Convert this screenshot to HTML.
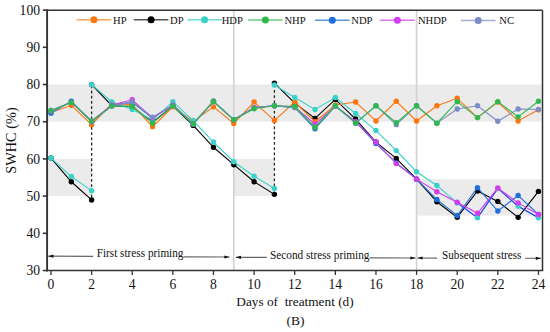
<!DOCTYPE html>
<html><head><meta charset="utf-8"><style>
html,body{margin:0;padding:0;background:#fff;width:550px;height:332px;overflow:hidden}
svg{display:block}
</style></head><body>
<svg width="550" height="332" viewBox="0 0 550 332">
<rect x="0" y="0" width="550" height="332" fill="#ffffff"/>
<rect x="48" y="84.5" width="493.5" height="37.2" fill="#ebebeb"/>
<rect x="48" y="158.9" width="43.62" height="37.2" fill="#ebebeb"/>
<rect x="233.79" y="158.9" width="40.62" height="37.2" fill="#ebebeb"/>
<rect x="416.58" y="179.1" width="124.92" height="36.5" fill="#ebebeb"/>
<line x1="233.79" y1="10" x2="233.79" y2="270" stroke="#d2d2d2" stroke-width="1.6"/>
<line x1="416.58" y1="10" x2="416.58" y2="270" stroke="#d2d2d2" stroke-width="1.6"/>
<line x1="91.62" y1="84.58" x2="91.62" y2="199.93" stroke="#2a2a2a" stroke-width="1.3" stroke-dasharray="2.8,2.4" stroke-dashoffset="4.4"/>
<line x1="274.41" y1="84.58" x2="274.41" y2="194.37" stroke="#2a2a2a" stroke-width="1.3" stroke-dasharray="2.8,2.4" stroke-dashoffset="5.0"/>
<polyline fill="none" stroke="#000000" stroke-width="1.1" points="51,158.02 71.31,181.76 91.62,199.93"/>
<polyline fill="none" stroke="#000000" stroke-width="1.1" points="91.62,84.58 111.93,105.72 132.24,106.46 152.55,122.41 172.86,106.09 193.17,125.38 213.48,147.26 233.79,164.69 254.1,181.76 274.41,194.37"/>
<polyline fill="none" stroke="#000000" stroke-width="1.1" points="274.41,83.1 294.72,103.13 315.03,118.33 335.34,99.42 355.65,119.07 375.96,142.07 396.27,158.39 416.58,179.16 436.89,201.78 457.2,217.36 477.51,191.03 497.82,201.41 518.13,217.36 538.44,191.4"/>
<circle cx="51" cy="158.02" r="2.7" fill="#000000"/>
<circle cx="71.31" cy="181.76" r="2.7" fill="#000000"/>
<circle cx="91.62" cy="199.93" r="2.7" fill="#000000"/>
<circle cx="91.62" cy="84.58" r="2.7" fill="#000000"/>
<circle cx="111.93" cy="105.72" r="2.7" fill="#000000"/>
<circle cx="132.24" cy="106.46" r="2.7" fill="#000000"/>
<circle cx="152.55" cy="122.41" r="2.7" fill="#000000"/>
<circle cx="172.86" cy="106.09" r="2.7" fill="#000000"/>
<circle cx="193.17" cy="125.38" r="2.7" fill="#000000"/>
<circle cx="213.48" cy="147.26" r="2.7" fill="#000000"/>
<circle cx="233.79" cy="164.69" r="2.7" fill="#000000"/>
<circle cx="254.1" cy="181.76" r="2.7" fill="#000000"/>
<circle cx="274.41" cy="194.37" r="2.7" fill="#000000"/>
<circle cx="274.41" cy="83.1" r="2.7" fill="#000000"/>
<circle cx="294.72" cy="103.13" r="2.7" fill="#000000"/>
<circle cx="315.03" cy="118.33" r="2.7" fill="#000000"/>
<circle cx="335.34" cy="99.42" r="2.7" fill="#000000"/>
<circle cx="355.65" cy="119.07" r="2.7" fill="#000000"/>
<circle cx="375.96" cy="142.07" r="2.7" fill="#000000"/>
<circle cx="396.27" cy="158.39" r="2.7" fill="#000000"/>
<circle cx="416.58" cy="179.16" r="2.7" fill="#000000"/>
<circle cx="436.89" cy="201.78" r="2.7" fill="#000000"/>
<circle cx="457.2" cy="217.36" r="2.7" fill="#000000"/>
<circle cx="477.51" cy="191.03" r="2.7" fill="#000000"/>
<circle cx="497.82" cy="201.41" r="2.7" fill="#000000"/>
<circle cx="518.13" cy="217.36" r="2.7" fill="#000000"/>
<circle cx="538.44" cy="191.4" r="2.7" fill="#000000"/>
<polyline fill="none" stroke="#ff7510" stroke-width="1.1" points="51,112.4 71.31,105.35 91.62,124.64 111.93,103.5 132.24,104.61 152.55,126.86 172.86,106.83 193.17,121.67 213.48,106.83 233.79,123.52 254.1,102.01 274.41,120.56 294.72,102.01 315.03,121.67 335.34,104.98 355.65,102.01 375.96,120.93 396.27,101.27 416.58,120.93 436.89,105.72 457.2,98.3 477.51,117.59 497.82,102.01 518.13,120.93 538.44,109.8"/>
<circle cx="51" cy="112.4" r="2.7" fill="#ff7510"/>
<circle cx="71.31" cy="105.35" r="2.7" fill="#ff7510"/>
<circle cx="91.62" cy="124.64" r="2.7" fill="#ff7510"/>
<circle cx="111.93" cy="103.5" r="2.7" fill="#ff7510"/>
<circle cx="132.24" cy="104.61" r="2.7" fill="#ff7510"/>
<circle cx="152.55" cy="126.86" r="2.7" fill="#ff7510"/>
<circle cx="172.86" cy="106.83" r="2.7" fill="#ff7510"/>
<circle cx="193.17" cy="121.67" r="2.7" fill="#ff7510"/>
<circle cx="213.48" cy="106.83" r="2.7" fill="#ff7510"/>
<circle cx="233.79" cy="123.52" r="2.7" fill="#ff7510"/>
<circle cx="254.1" cy="102.01" r="2.7" fill="#ff7510"/>
<circle cx="274.41" cy="120.56" r="2.7" fill="#ff7510"/>
<circle cx="294.72" cy="102.01" r="2.7" fill="#ff7510"/>
<circle cx="315.03" cy="121.67" r="2.7" fill="#ff7510"/>
<circle cx="335.34" cy="104.98" r="2.7" fill="#ff7510"/>
<circle cx="355.65" cy="102.01" r="2.7" fill="#ff7510"/>
<circle cx="375.96" cy="120.93" r="2.7" fill="#ff7510"/>
<circle cx="396.27" cy="101.27" r="2.7" fill="#ff7510"/>
<circle cx="416.58" cy="120.93" r="2.7" fill="#ff7510"/>
<circle cx="436.89" cy="105.72" r="2.7" fill="#ff7510"/>
<circle cx="457.2" cy="98.3" r="2.7" fill="#ff7510"/>
<circle cx="477.51" cy="117.59" r="2.7" fill="#ff7510"/>
<circle cx="497.82" cy="102.01" r="2.7" fill="#ff7510"/>
<circle cx="518.13" cy="120.93" r="2.7" fill="#ff7510"/>
<circle cx="538.44" cy="109.8" r="2.7" fill="#ff7510"/>
<polyline fill="none" stroke="#1f6fdb" stroke-width="1.1" points="51,113.14 71.31,101.27 91.62,121.67 111.93,104.98 132.24,102.38 152.55,117.96 172.86,104.98 193.17,123.9 213.48,101.27 233.79,119.82 254.1,107.58 274.41,105.72 294.72,107.58 315.03,128.72 335.34,106.09 355.65,121.67 375.96,143.55 396.27,162.84 416.58,179.16 436.89,199.56 457.2,215.51 477.51,187.69 497.82,211.06 518.13,195.48 538.44,214.4"/>
<circle cx="51" cy="113.14" r="2.7" fill="#1f6fdb"/>
<circle cx="71.31" cy="101.27" r="2.7" fill="#1f6fdb"/>
<circle cx="91.62" cy="121.67" r="2.7" fill="#1f6fdb"/>
<circle cx="111.93" cy="104.98" r="2.7" fill="#1f6fdb"/>
<circle cx="132.24" cy="102.38" r="2.7" fill="#1f6fdb"/>
<circle cx="152.55" cy="117.96" r="2.7" fill="#1f6fdb"/>
<circle cx="172.86" cy="104.98" r="2.7" fill="#1f6fdb"/>
<circle cx="193.17" cy="123.9" r="2.7" fill="#1f6fdb"/>
<circle cx="213.48" cy="101.27" r="2.7" fill="#1f6fdb"/>
<circle cx="233.79" cy="119.82" r="2.7" fill="#1f6fdb"/>
<circle cx="254.1" cy="107.58" r="2.7" fill="#1f6fdb"/>
<circle cx="274.41" cy="105.72" r="2.7" fill="#1f6fdb"/>
<circle cx="294.72" cy="107.58" r="2.7" fill="#1f6fdb"/>
<circle cx="315.03" cy="128.72" r="2.7" fill="#1f6fdb"/>
<circle cx="335.34" cy="106.09" r="2.7" fill="#1f6fdb"/>
<circle cx="355.65" cy="121.67" r="2.7" fill="#1f6fdb"/>
<circle cx="375.96" cy="143.55" r="2.7" fill="#1f6fdb"/>
<circle cx="396.27" cy="162.84" r="2.7" fill="#1f6fdb"/>
<circle cx="416.58" cy="179.16" r="2.7" fill="#1f6fdb"/>
<circle cx="436.89" cy="199.56" r="2.7" fill="#1f6fdb"/>
<circle cx="457.2" cy="215.51" r="2.7" fill="#1f6fdb"/>
<circle cx="477.51" cy="187.69" r="2.7" fill="#1f6fdb"/>
<circle cx="497.82" cy="211.06" r="2.7" fill="#1f6fdb"/>
<circle cx="518.13" cy="195.48" r="2.7" fill="#1f6fdb"/>
<circle cx="538.44" cy="214.4" r="2.7" fill="#1f6fdb"/>
<polyline fill="none" stroke="#38d2ca" stroke-width="1.1" points="51,158.02 71.31,176.56 91.62,190.66"/>
<polyline fill="none" stroke="#38d2ca" stroke-width="1.1" points="91.62,84.58 111.93,102.01 132.24,109.43 152.55,119.82 172.86,101.64 193.17,120.56 213.48,142.07 233.79,161.73 254.1,176.19 274.41,188.43"/>
<polyline fill="none" stroke="#38d2ca" stroke-width="1.1" points="274.41,84.95 294.72,97.56 315.03,109.43 335.34,97.56 355.65,113.51 375.96,130.57 396.27,150.6 416.58,171.74 436.89,185.46 457.2,202.9 477.51,217.73 497.82,188.43 518.13,206.24 538.44,217.73"/>
<polyline fill="none" stroke="#3535ee" stroke-width="1.1" points="457.2,202.9 477.51,217.73 497.82,188.43 518.13,206.24 538.44,217.73"/>
<circle cx="51" cy="158.02" r="2.7" fill="#38d2ca"/>
<circle cx="71.31" cy="176.56" r="2.7" fill="#38d2ca"/>
<circle cx="91.62" cy="190.66" r="2.7" fill="#38d2ca"/>
<circle cx="91.62" cy="84.58" r="2.7" fill="#38d2ca"/>
<circle cx="111.93" cy="102.01" r="2.7" fill="#38d2ca"/>
<circle cx="132.24" cy="109.43" r="2.7" fill="#38d2ca"/>
<circle cx="152.55" cy="119.82" r="2.7" fill="#38d2ca"/>
<circle cx="172.86" cy="101.64" r="2.7" fill="#38d2ca"/>
<circle cx="193.17" cy="120.56" r="2.7" fill="#38d2ca"/>
<circle cx="213.48" cy="142.07" r="2.7" fill="#38d2ca"/>
<circle cx="233.79" cy="161.73" r="2.7" fill="#38d2ca"/>
<circle cx="254.1" cy="176.19" r="2.7" fill="#38d2ca"/>
<circle cx="274.41" cy="188.43" r="2.7" fill="#38d2ca"/>
<circle cx="274.41" cy="84.95" r="2.7" fill="#38d2ca"/>
<circle cx="294.72" cy="97.56" r="2.7" fill="#38d2ca"/>
<circle cx="315.03" cy="109.43" r="2.7" fill="#38d2ca"/>
<circle cx="335.34" cy="97.56" r="2.7" fill="#38d2ca"/>
<circle cx="355.65" cy="113.51" r="2.7" fill="#38d2ca"/>
<circle cx="375.96" cy="130.57" r="2.7" fill="#38d2ca"/>
<circle cx="396.27" cy="150.6" r="2.7" fill="#38d2ca"/>
<circle cx="416.58" cy="171.74" r="2.7" fill="#38d2ca"/>
<circle cx="436.89" cy="185.46" r="2.7" fill="#38d2ca"/>
<circle cx="457.2" cy="202.9" r="2.7" fill="#38d2ca"/>
<circle cx="477.51" cy="217.73" r="2.7" fill="#38d2ca"/>
<circle cx="497.82" cy="188.43" r="2.7" fill="#38d2ca"/>
<circle cx="518.13" cy="206.24" r="2.7" fill="#38d2ca"/>
<circle cx="538.44" cy="217.73" r="2.7" fill="#38d2ca"/>
<polyline fill="none" stroke="#d43cf0" stroke-width="1.1" points="51,110.54 71.31,102.38 91.62,120.93 111.93,104.98 132.24,99.79 152.55,117.96 172.86,104.98 193.17,123.9 213.48,101.27 233.79,119.82 254.1,107.58 274.41,105.72 294.72,106.83 315.03,124.27 335.34,106.09 355.65,121.67 375.96,142.07 396.27,163.58 416.58,179.16 436.89,191.77 457.2,202.16 477.51,213.28 497.82,188.06 518.13,202.9 538.44,214.4"/>
<circle cx="51" cy="110.54" r="2.7" fill="#d43cf0"/>
<circle cx="71.31" cy="102.38" r="2.7" fill="#d43cf0"/>
<circle cx="91.62" cy="120.93" r="2.7" fill="#d43cf0"/>
<circle cx="111.93" cy="104.98" r="2.7" fill="#d43cf0"/>
<circle cx="132.24" cy="99.79" r="2.7" fill="#d43cf0"/>
<circle cx="152.55" cy="117.96" r="2.7" fill="#d43cf0"/>
<circle cx="172.86" cy="104.98" r="2.7" fill="#d43cf0"/>
<circle cx="193.17" cy="123.9" r="2.7" fill="#d43cf0"/>
<circle cx="213.48" cy="101.27" r="2.7" fill="#d43cf0"/>
<circle cx="233.79" cy="119.82" r="2.7" fill="#d43cf0"/>
<circle cx="254.1" cy="107.58" r="2.7" fill="#d43cf0"/>
<circle cx="274.41" cy="105.72" r="2.7" fill="#d43cf0"/>
<circle cx="294.72" cy="106.83" r="2.7" fill="#d43cf0"/>
<circle cx="315.03" cy="124.27" r="2.7" fill="#d43cf0"/>
<circle cx="335.34" cy="106.09" r="2.7" fill="#d43cf0"/>
<circle cx="355.65" cy="121.67" r="2.7" fill="#d43cf0"/>
<circle cx="375.96" cy="142.07" r="2.7" fill="#d43cf0"/>
<circle cx="396.27" cy="163.58" r="2.7" fill="#d43cf0"/>
<circle cx="416.58" cy="179.16" r="2.7" fill="#d43cf0"/>
<circle cx="436.89" cy="191.77" r="2.7" fill="#d43cf0"/>
<circle cx="457.2" cy="202.16" r="2.7" fill="#d43cf0"/>
<circle cx="477.51" cy="213.28" r="2.7" fill="#d43cf0"/>
<circle cx="497.82" cy="188.06" r="2.7" fill="#d43cf0"/>
<circle cx="518.13" cy="202.9" r="2.7" fill="#d43cf0"/>
<circle cx="538.44" cy="214.4" r="2.7" fill="#d43cf0"/>
<polyline fill="none" stroke="#7c8cc6" stroke-width="1.1" points="51,110.91 71.31,102.38 91.62,121.67 111.93,106.09 132.24,101.64 152.55,117.22 172.86,104.98 193.17,123.9 213.48,101.64 233.79,119.82 254.1,107.58 274.41,105.72 294.72,107.58 315.03,127.23 335.34,106.09 355.65,123.15 375.96,105.72 396.27,124.64 416.58,105.72 436.89,123.15 457.2,109.06 477.51,105.72 497.82,121.3 518.13,109.06 538.44,109.43"/>
<circle cx="51" cy="110.91" r="2.7" fill="#7c8cc6"/>
<circle cx="71.31" cy="102.38" r="2.7" fill="#7c8cc6"/>
<circle cx="91.62" cy="121.67" r="2.7" fill="#7c8cc6"/>
<circle cx="111.93" cy="106.09" r="2.7" fill="#7c8cc6"/>
<circle cx="132.24" cy="101.64" r="2.7" fill="#7c8cc6"/>
<circle cx="152.55" cy="117.22" r="2.7" fill="#7c8cc6"/>
<circle cx="172.86" cy="104.98" r="2.7" fill="#7c8cc6"/>
<circle cx="193.17" cy="123.9" r="2.7" fill="#7c8cc6"/>
<circle cx="213.48" cy="101.64" r="2.7" fill="#7c8cc6"/>
<circle cx="233.79" cy="119.82" r="2.7" fill="#7c8cc6"/>
<circle cx="254.1" cy="107.58" r="2.7" fill="#7c8cc6"/>
<circle cx="274.41" cy="105.72" r="2.7" fill="#7c8cc6"/>
<circle cx="294.72" cy="107.58" r="2.7" fill="#7c8cc6"/>
<circle cx="315.03" cy="127.23" r="2.7" fill="#7c8cc6"/>
<circle cx="335.34" cy="106.09" r="2.7" fill="#7c8cc6"/>
<circle cx="355.65" cy="123.15" r="2.7" fill="#7c8cc6"/>
<circle cx="375.96" cy="105.72" r="2.7" fill="#7c8cc6"/>
<circle cx="396.27" cy="124.64" r="2.7" fill="#7c8cc6"/>
<circle cx="416.58" cy="105.72" r="2.7" fill="#7c8cc6"/>
<circle cx="436.89" cy="123.15" r="2.7" fill="#7c8cc6"/>
<circle cx="457.2" cy="109.06" r="2.7" fill="#7c8cc6"/>
<circle cx="477.51" cy="105.72" r="2.7" fill="#7c8cc6"/>
<circle cx="497.82" cy="121.3" r="2.7" fill="#7c8cc6"/>
<circle cx="518.13" cy="109.06" r="2.7" fill="#7c8cc6"/>
<circle cx="538.44" cy="109.43" r="2.7" fill="#7c8cc6"/>
<polyline fill="none" stroke="#2fb84e" stroke-width="1.1" points="51,110.54 71.31,102.38 91.62,120.93 111.93,105.72 132.24,106.46 152.55,123.15 172.86,106.09 193.17,123.9 213.48,101.27 233.79,119.82 254.1,108.69 274.41,105.72 294.72,106.46 315.03,127.23 335.34,105.72 355.65,123.15 375.96,105.72 396.27,122.78 416.58,105.72 436.89,123.15 457.2,101.64 477.51,117.59 497.82,101.64 518.13,116.85 538.44,101.27"/>
<circle cx="51" cy="110.54" r="2.7" fill="#2fb84e"/>
<circle cx="71.31" cy="102.38" r="2.7" fill="#2fb84e"/>
<circle cx="91.62" cy="120.93" r="2.7" fill="#2fb84e"/>
<circle cx="111.93" cy="105.72" r="2.7" fill="#2fb84e"/>
<circle cx="132.24" cy="106.46" r="2.7" fill="#2fb84e"/>
<circle cx="152.55" cy="123.15" r="2.7" fill="#2fb84e"/>
<circle cx="172.86" cy="106.09" r="2.7" fill="#2fb84e"/>
<circle cx="193.17" cy="123.9" r="2.7" fill="#2fb84e"/>
<circle cx="213.48" cy="101.27" r="2.7" fill="#2fb84e"/>
<circle cx="233.79" cy="119.82" r="2.7" fill="#2fb84e"/>
<circle cx="254.1" cy="108.69" r="2.7" fill="#2fb84e"/>
<circle cx="274.41" cy="105.72" r="2.7" fill="#2fb84e"/>
<circle cx="294.72" cy="106.46" r="2.7" fill="#2fb84e"/>
<circle cx="315.03" cy="127.23" r="2.7" fill="#2fb84e"/>
<circle cx="335.34" cy="105.72" r="2.7" fill="#2fb84e"/>
<circle cx="355.65" cy="123.15" r="2.7" fill="#2fb84e"/>
<circle cx="375.96" cy="105.72" r="2.7" fill="#2fb84e"/>
<circle cx="396.27" cy="122.78" r="2.7" fill="#2fb84e"/>
<circle cx="416.58" cy="105.72" r="2.7" fill="#2fb84e"/>
<circle cx="436.89" cy="123.15" r="2.7" fill="#2fb84e"/>
<circle cx="457.2" cy="101.64" r="2.7" fill="#2fb84e"/>
<circle cx="477.51" cy="117.59" r="2.7" fill="#2fb84e"/>
<circle cx="497.82" cy="101.64" r="2.7" fill="#2fb84e"/>
<circle cx="518.13" cy="116.85" r="2.7" fill="#2fb84e"/>
<circle cx="538.44" cy="101.27" r="2.7" fill="#2fb84e"/>
<line x1="47" y1="10.2" x2="542.5" y2="10.2" stroke="#333333" stroke-width="1.5"/>
<line x1="542.5" y1="10.2" x2="542.5" y2="270.7" stroke="#333333" stroke-width="1.5"/>
<line x1="47.1" y1="9.5" x2="47.1" y2="271.6" stroke="#333333" stroke-width="1.9"/>
<line x1="42.8" y1="270.5" x2="543.2" y2="270.5" stroke="#333333" stroke-width="1.6"/>
<text x="40" y="275.2" text-anchor="end" style="font-family:'Liberation Serif',serif;font-size:13.6px" fill="#111">30</text>
<line x1="42.8" y1="233.3" x2="47" y2="233.3" stroke="#333333" stroke-width="1.6"/>
<text x="40" y="238" text-anchor="end" style="font-family:'Liberation Serif',serif;font-size:13.6px" fill="#111">40</text>
<line x1="42.8" y1="196.1" x2="47" y2="196.1" stroke="#333333" stroke-width="1.6"/>
<text x="40" y="200.8" text-anchor="end" style="font-family:'Liberation Serif',serif;font-size:13.6px" fill="#111">50</text>
<line x1="42.8" y1="158.9" x2="47" y2="158.9" stroke="#333333" stroke-width="1.6"/>
<text x="40" y="163.6" text-anchor="end" style="font-family:'Liberation Serif',serif;font-size:13.6px" fill="#111">60</text>
<line x1="42.8" y1="121.7" x2="47" y2="121.7" stroke="#333333" stroke-width="1.6"/>
<text x="40" y="126.4" text-anchor="end" style="font-family:'Liberation Serif',serif;font-size:13.6px" fill="#111">70</text>
<line x1="42.8" y1="84.5" x2="47" y2="84.5" stroke="#333333" stroke-width="1.6"/>
<text x="40" y="89.2" text-anchor="end" style="font-family:'Liberation Serif',serif;font-size:13.6px" fill="#111">80</text>
<line x1="42.8" y1="47.3" x2="47" y2="47.3" stroke="#333333" stroke-width="1.6"/>
<text x="40" y="52" text-anchor="end" style="font-family:'Liberation Serif',serif;font-size:13.6px" fill="#111">90</text>
<line x1="42.8" y1="10.1" x2="47" y2="10.1" stroke="#333333" stroke-width="1.6"/>
<text x="40" y="14.8" text-anchor="end" style="font-family:'Liberation Serif',serif;font-size:13.6px" fill="#111">100</text>
<line x1="51" y1="270.6" x2="51" y2="274.9" stroke="#333333" stroke-width="1.3"/>
<text x="51" y="288.5" text-anchor="middle" style="font-family:'Liberation Serif',serif;font-size:13.6px" fill="#111">0</text>
<line x1="91.62" y1="270.6" x2="91.62" y2="274.9" stroke="#333333" stroke-width="1.3"/>
<text x="91.62" y="288.5" text-anchor="middle" style="font-family:'Liberation Serif',serif;font-size:13.6px" fill="#111">2</text>
<line x1="132.24" y1="270.6" x2="132.24" y2="274.9" stroke="#333333" stroke-width="1.3"/>
<text x="132.24" y="288.5" text-anchor="middle" style="font-family:'Liberation Serif',serif;font-size:13.6px" fill="#111">4</text>
<line x1="172.86" y1="270.6" x2="172.86" y2="274.9" stroke="#333333" stroke-width="1.3"/>
<text x="172.86" y="288.5" text-anchor="middle" style="font-family:'Liberation Serif',serif;font-size:13.6px" fill="#111">6</text>
<line x1="213.48" y1="270.6" x2="213.48" y2="274.9" stroke="#333333" stroke-width="1.3"/>
<text x="213.48" y="288.5" text-anchor="middle" style="font-family:'Liberation Serif',serif;font-size:13.6px" fill="#111">8</text>
<line x1="254.1" y1="270.6" x2="254.1" y2="274.9" stroke="#333333" stroke-width="1.3"/>
<text x="254.1" y="288.5" text-anchor="middle" style="font-family:'Liberation Serif',serif;font-size:13.6px" fill="#111">10</text>
<line x1="294.72" y1="270.6" x2="294.72" y2="274.9" stroke="#333333" stroke-width="1.3"/>
<text x="294.72" y="288.5" text-anchor="middle" style="font-family:'Liberation Serif',serif;font-size:13.6px" fill="#111">12</text>
<line x1="335.34" y1="270.6" x2="335.34" y2="274.9" stroke="#333333" stroke-width="1.3"/>
<text x="335.34" y="288.5" text-anchor="middle" style="font-family:'Liberation Serif',serif;font-size:13.6px" fill="#111">14</text>
<line x1="375.96" y1="270.6" x2="375.96" y2="274.9" stroke="#333333" stroke-width="1.3"/>
<text x="375.96" y="288.5" text-anchor="middle" style="font-family:'Liberation Serif',serif;font-size:13.6px" fill="#111">16</text>
<line x1="416.58" y1="270.6" x2="416.58" y2="274.9" stroke="#333333" stroke-width="1.3"/>
<text x="416.58" y="288.5" text-anchor="middle" style="font-family:'Liberation Serif',serif;font-size:13.6px" fill="#111">18</text>
<line x1="457.2" y1="270.6" x2="457.2" y2="274.9" stroke="#333333" stroke-width="1.3"/>
<text x="457.2" y="288.5" text-anchor="middle" style="font-family:'Liberation Serif',serif;font-size:13.6px" fill="#111">20</text>
<line x1="497.82" y1="270.6" x2="497.82" y2="274.9" stroke="#333333" stroke-width="1.3"/>
<text x="497.82" y="288.5" text-anchor="middle" style="font-family:'Liberation Serif',serif;font-size:13.6px" fill="#111">22</text>
<line x1="538.44" y1="270.6" x2="538.44" y2="274.9" stroke="#333333" stroke-width="1.3"/>
<text x="538.44" y="288.5" text-anchor="middle" style="font-family:'Liberation Serif',serif;font-size:13.6px" fill="#111">24</text>
<text transform="translate(15.6,140.5) rotate(-90)" text-anchor="middle" style="font-family:'Liberation Serif',serif;font-size:14.3px" fill="#111">SWHC (%)</text>
<text x="295" y="305.5" text-anchor="middle" style="font-family:'Liberation Serif',serif;font-size:13.3px;white-space:pre" fill="#111" xml:space="preserve">Days of  treatment (d)</text>
<text x="295.5" y="324.5" text-anchor="middle" style="font-family:'Liberation Serif',serif;font-size:13.5px" fill="#111">(B)</text>
<line x1="76.6" y1="19.7" x2="111.2" y2="19.7" stroke="#ffa55a" stroke-width="1.5"/>
<circle cx="93.9" cy="19.7" r="3.5" fill="#ff7510"/>
<text x="113" y="23.5" style="font-family:'Liberation Serif',serif;font-size:10.6px" fill="#111">HP</text>
<line x1="133.8" y1="19.75" x2="168.4" y2="19.75" stroke="#555555" stroke-width="1.5"/>
<circle cx="151.1" cy="19.75" r="3.5" fill="#000000"/>
<text x="170" y="23.5" style="font-family:'Liberation Serif',serif;font-size:10.6px" fill="#111">DP</text>
<line x1="187.3" y1="19.8" x2="221.9" y2="19.8" stroke="#6fdcd4" stroke-width="1.5"/>
<circle cx="204.6" cy="19.8" r="3.5" fill="#38d2ca"/>
<text x="221.7" y="23.5" style="font-family:'Liberation Serif',serif;font-size:10.6px" fill="#111">HDP</text>
<line x1="248.1" y1="20.0" x2="282.7" y2="20.0" stroke="#6ccc7f" stroke-width="1.5"/>
<circle cx="265.4" cy="20.0" r="3.5" fill="#2fb84e"/>
<text x="284.4" y="23.5" style="font-family:'Liberation Serif',serif;font-size:10.6px" fill="#111">NHP</text>
<line x1="315" y1="20.2" x2="349.6" y2="20.2" stroke="#5b93e3" stroke-width="1.5"/>
<circle cx="332.3" cy="20.2" r="3.5" fill="#1f6fdb"/>
<text x="351.3" y="23.5" style="font-family:'Liberation Serif',serif;font-size:10.6px" fill="#111">NDP</text>
<line x1="380.1" y1="20.3" x2="414.7" y2="20.3" stroke="#e070f2" stroke-width="1.5"/>
<circle cx="397.4" cy="20.3" r="3.5" fill="#d43cf0"/>
<text x="417.9" y="23.5" style="font-family:'Liberation Serif',serif;font-size:10.6px" fill="#111">NHDP</text>
<line x1="460.9" y1="20.4" x2="495.5" y2="20.4" stroke="#a3aed8" stroke-width="1.5"/>
<circle cx="478.2" cy="20.4" r="3.5" fill="#7c8cc6"/>
<text x="499.3" y="23.5" style="font-family:'Liberation Serif',serif;font-size:10.6px" fill="#111">NC</text>
<line x1="48.2" y1="256.2" x2="93.1" y2="256.4" stroke="#666" stroke-width="1.2"/>
<line x1="183.5" y1="256.8" x2="229.5" y2="257" stroke="#666" stroke-width="1.2"/>
<path d="M48.2,256.2 l5.2,-1.6 l0,3.2 z" fill="#111"/>
<path d="M229.5,257 l-5.2,-1.6 l0,3.2 z" fill="#111"/>
<text x="96.7" y="257.3" textLength="86.8" lengthAdjust="spacingAndGlyphs" style="font-family:'Liberation Serif',serif;font-size:11.8px" fill="#111">First stress priming</text>
<line x1="235.8" y1="257.3" x2="266.8" y2="257.42" stroke="#666" stroke-width="1.2"/>
<line x1="369.5" y1="257.82" x2="415.6" y2="258" stroke="#666" stroke-width="1.2"/>
<path d="M235.8,257.3 l5.2,-1.6 l0,3.2 z" fill="#111"/>
<path d="M415.6,258 l-5.2,-1.6 l0,3.2 z" fill="#111"/>
<text x="270" y="258.5" textLength="99.5" lengthAdjust="spacingAndGlyphs" style="font-family:'Liberation Serif',serif;font-size:11.8px" fill="#111">Second stress priming</text>
<line x1="417.4" y1="258" x2="437" y2="258.05" stroke="#666" stroke-width="1.2"/>
<line x1="525" y1="258.26" x2="541" y2="258.3" stroke="#666" stroke-width="1.2"/>
<path d="M417.4,258 l5.2,-1.6 l0,3.2 z" fill="#111"/>
<path d="M541,258.3 l-5.2,-1.6 l0,3.2 z" fill="#111"/>
<text x="441.9" y="259.1" textLength="79.6" lengthAdjust="spacingAndGlyphs" style="font-family:'Liberation Serif',serif;font-size:11.8px" fill="#111">Subsequent stress</text>
</svg>
</body></html>
